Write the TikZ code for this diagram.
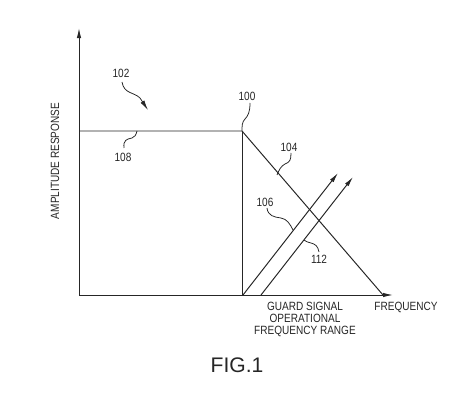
\documentclass[tikz,border=0pt]{standalone}
\usepackage{fontspec}
\setmainfont{Liberation Sans}
\newfontfamily\condfont[FakeStretch=0.84]{Liberation Sans}
\usetikzlibrary{arrows.meta}
\begin{document}
\begin{tikzpicture}[x=0.025cm,y=-0.025cm,
  ln/.style={line width=0.7pt, draw=black!85},
  lead/.style={line width=0.55pt, draw=black!85},
  tip/.style={-{Latex[length=0.25cm,width=0.11cm]}},
  lbl/.style={font=\condfont\fontsize{8.5}{10}\selectfont, text=black!85, inner sep=0pt},
  captxt/.style={font=\condfont\fontsize{8.5}{10.5}\selectfont, text=black!85, inner sep=0pt, align=center}]
\useasboundingbox (0,0) rectangle (474,400);
% axes
\coordinate (O) at (79,295);
\coordinate (ytop) at (79,28);
\coordinate (xend) at (393,295);
\draw[ln,tip] (O) -- (ytop);
\draw[ln,tip] (O) -- (xend);
% response curve
\coordinate (flatL) at (79,131);
\coordinate (corner) at (242,131);
\coordinate (cbot) at (242,295);
\coordinate (dend) at (383,295);
\draw[ln] (flatL) -- (corner) -- (dend);
\draw[ln] (corner) -- (cbot);
% guard arrows
\coordinate (a1s) at (243,295);
\coordinate (a1e) at (338,173);
\coordinate (a2s) at (261,295);
\coordinate (a2e) at (353,177);
\draw[ln,tip] (a1s) -- (a1e);
\draw[ln,tip] (a2s) -- (a2e);
% labels
\node[lbl] (l102) at (121,73) {102};
\node[lbl] (l100) at (247,96) {100};
\node[lbl] (l108) at (123,157) {108};
\node[lbl] (l104) at (289,147) {104};
\node[lbl] (l106) at (265,202) {106};
\node[lbl] (l112) at (319,259) {112};
% leaders
\coordinate (e102) at (148,110);
\draw[lead,tip] (122,82) .. controls (124,94) and (134,92) .. (140,98) -- (e102);
\coordinate (e100) at (242,131);
\draw[lead] (250,103) .. controls (250,112) and (248,116) .. (245,119) .. controls (242,122) and (242,126) .. (e100);
\coordinate (e108) at (137,131);
\draw[lead] (124,148) .. controls (123,140) and (127,139) .. (132,138) .. controls (135,137) and (136,135) .. (e108);
\coordinate (e104) at (277,175);
\draw[lead] (291,153) .. controls (291,160) and (290,162) .. (285,164) .. controls (281,166) and (279,170) .. (e104);
\coordinate (e106) at (293,230);
\draw[lead] (267,208) .. controls (268,216) and (274,217) .. (281,218) .. controls (287,219) and (290,224) .. (e106);
\coordinate (e112) at (304,240);
\draw[lead] (319,252) .. controls (318,246) and (315,244) .. (311,243) .. controls (307,242) and (305,241) .. (e112);
% captions
\node[captxt] (guard) at (305,319.5) {GUARD SIGNAL\\[-2pt]OPERATIONAL\\[-2pt]FREQUENCY RANGE};
\node[captxt] (freq) at (406,307) {FREQUENCY};
\node[captxt, rotate=90] (amp) at (55,161) {AMPLITUDE RESPONSE};
\node[font=\fontsize{15}{18}\selectfont, text=black!85, inner sep=0pt] (fig) at (237,365) {FIG.1};
\end{tikzpicture}
\end{document}
